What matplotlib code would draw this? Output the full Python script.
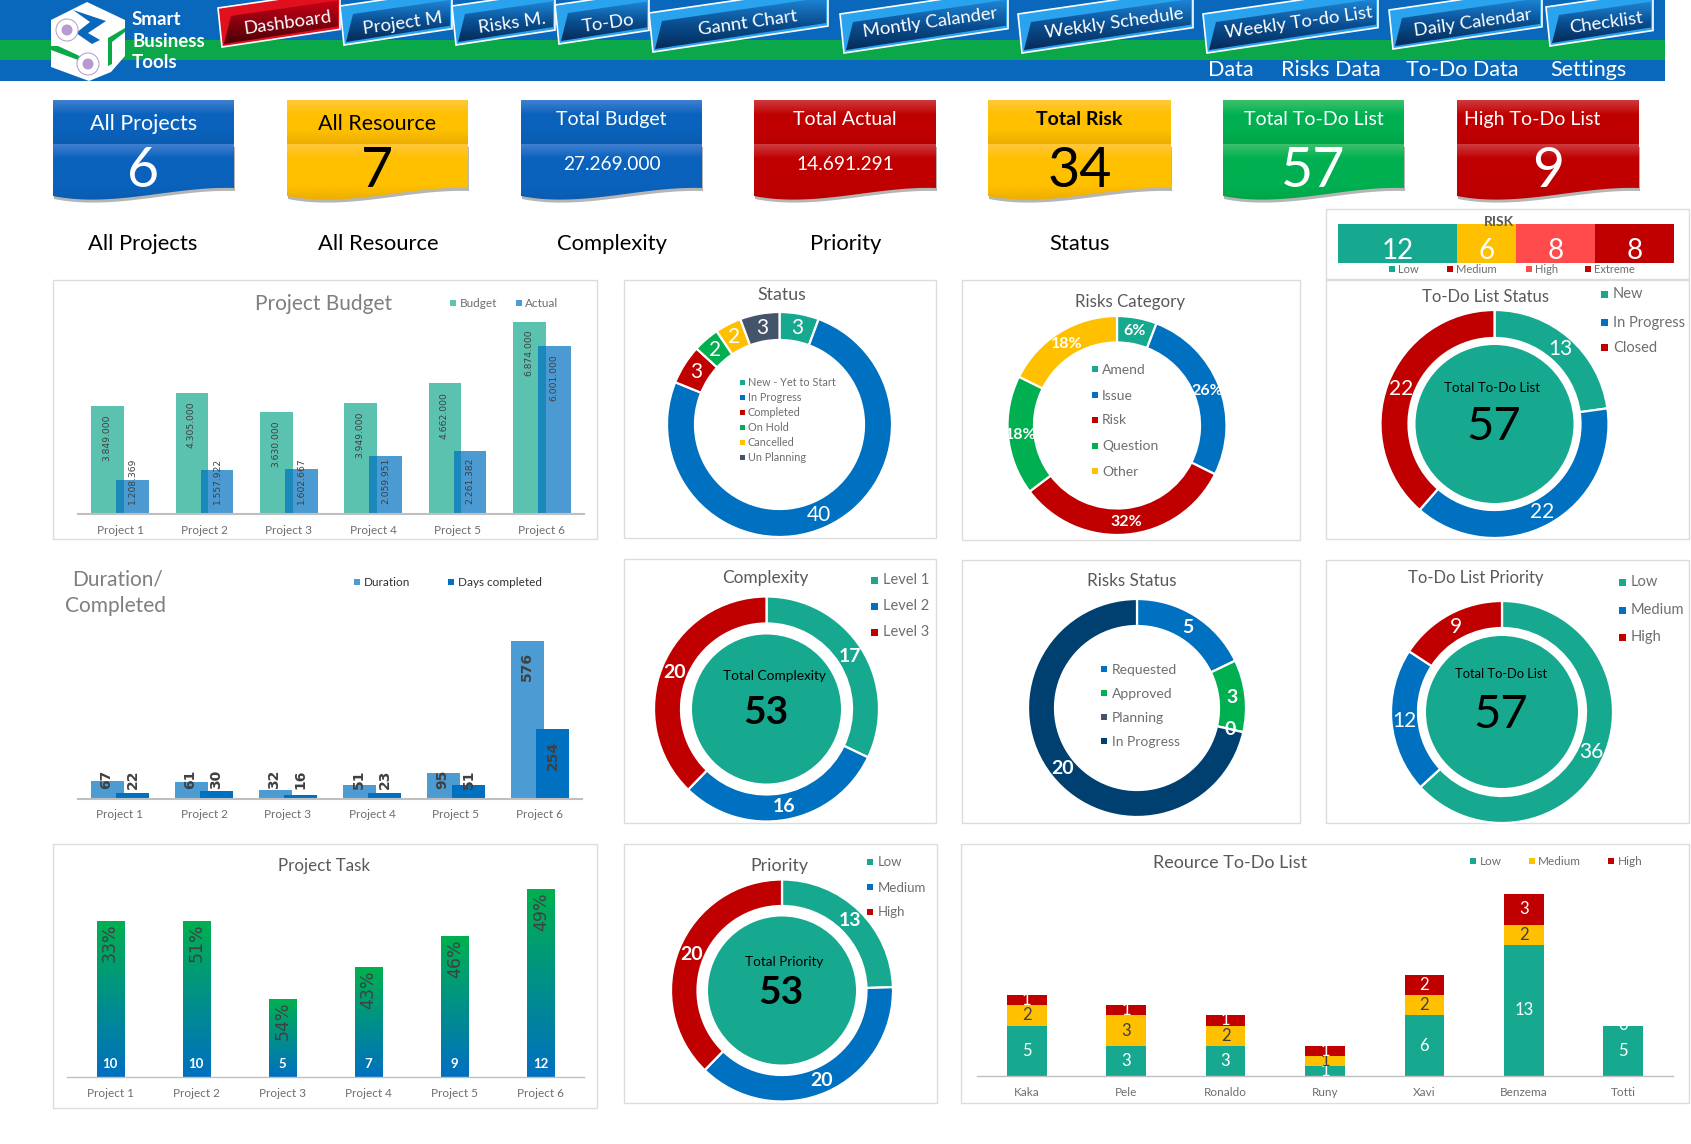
#!/usr/bin/env python3

import math
import numpy as np
import matplotlib
matplotlib.use('Agg')
import matplotlib.pyplot as plt
from matplotlib.colors import LinearSegmentedColormap
from matplotlib.patches import Circle, Polygon, Rectangle

plt.rcParams['font.family'] = ['Lato', 'DejaVu Sans']

# chart data
projects = ['Project 1', 'Project 2', 'Project 3', 'Project 4', 'Project 5', 'Project 6']
budget = [3849000, 4305000, 3630000, 3949000, 4662000, 6874000]
actual = [1208369, 1557922, 1602667, 2059951, 2261382, 6001000]
duration = [67, 61, 32, 51, 95, 576]
days_done = [22, 30, 16, 23, 51, 254]
task_count = [10, 10, 5, 7, 9, 12]
task_pct = [33, 51, 54, 43, 46, 49]

status_names = ['New - Yet to Start', 'In Progress', 'Completed', 'On Hold', 'Cancelled', 'Un Planning']
status_vals = [3, 40, 3, 2, 2, 3]
risk_cat_names = ['Amend', 'Issue', 'Risk', 'Question', 'Other']
risk_cat_vals = [2, 9, 11, 6, 6]
todo_status_names = ['New', 'In Progress', 'Closed']
todo_status_vals = [13, 22, 22]
complexity_names = ['Level 1', 'Level 2', 'Level 3']
complexity_vals = [17, 16, 20]
risk_status_names = ['Requested', 'Approved', 'Planning', 'In Progress']
risk_status_vals = [5, 3, 0, 20]
todo_prio_names = ['Low', 'Medium', 'High']
todo_prio_vals = [36, 12, 9]
priority_names = ['Low', 'Medium', 'High']
priority_vals = [13, 20, 20]

risk_names = ['Low', 'Medium', 'High', 'Extreme']
risk_vals = [12, 6, 8, 8]

people = ['Kaka', 'Pele', 'Ronaldo', 'Runy', 'Xavi', 'Benzema', 'Totti']
res_low = [5, 3, 3, 1, 6, 13, 5]
res_med = [2, 3, 2, 1, 2, 2, 0]
res_high = [1, 1, 1, 1, 2, 3, 0]

card_titles = ['All Projects', 'All Resource', 'Total Budget', 'Total Actual', 'Total Risk', 'Total To-Do List', 'High To-Do List']
card_values = ['6', '7', '27.269.000', '14.691.291', '34', '57', '9']
filters = ['All Projects', 'All Resource', 'Complexity', 'Priority', 'Status']
nav_names = ['Dashboard', 'Project M', 'Risks M.', 'To-Do', 'Gannt Chart', 'Montly Calander',
             'Wekkly Schedule', 'Weekly To-do List', 'Daily Calendar', 'Checklist']
sub_nav = ['Data', 'Risks Data', 'To-Do Data', 'Settings']

# colours
TEAL = '#17A98F'
BLUE = '#0070C0'
RED = '#C00000'
GREEN = '#00B050'
YELLOW = '#FFC000'
SLATE = '#44546A'
NAVY = '#004070'
GREY = '#6E6E6E'
W, H = 1691, 1144

fig = plt.figure(figsize=(W / 100, H / 100), dpi=100, facecolor='white')

bg = fig.add_axes([0, 0, 1, 1], zorder=0)
ov = fig.add_axes([0, 0, 1, 1], zorder=10)
for a in (bg, ov):
  a.set_xlim(0, W)
  a.set_ylim(H, 0)
  a.axis('off')
  a.patch.set_alpha(0)


def px_axes(x0, y0, x1, y1):
  # axes from reference pixel box, 1px lower fits the reference better
  a = fig.add_axes([x0 / W, 1 - (y1 + 1) / H, (x1 - x0) / W, (y1 - y0) / H], zorder=5)
  a.patch.set_alpha(0)
  return a


def grad_poly(ax, verts, cols, z=2):
  poly = Polygon(verts, closed=True, fc='none', ec='none', zorder=z)
  ax.add_patch(poly)
  xs = [v[0] for v in verts]
  ys = [v[1] for v in verts]
  cmap = LinearSegmentedColormap.from_list('g', cols)
  im = ax.imshow(np.linspace(0, 1, 64)[:, None], cmap=cmap, aspect='auto', zorder=z,
                 extent=(min(xs), max(xs), max(ys), min(ys)))
  im.set_clip_path(poly)


def panel(x0, y0, x1, y1):
  bg.add_patch(Rectangle((x0, y0 + 1), x1 - x0, y1 - y0, fc='white', ec='#DCDCDC', lw=1, zorder=1))


def txt(x, y, s, size=10, color=GREY, **kw):
  kw.setdefault('ha', 'center')
  kw.setdefault('va', 'center')
  ov.text(x, y + 1.5, s, fontsize=size, color=color, **kw)


def legend(items, size=8.5, color=GREY, box=6):
  # items: (marker x, text x, y, label, colour)
  for mx, tx, y, label, c in items:
    ov.add_patch(Rectangle((mx - box / 2, y + 1 - box / 2), box, box, fc=c, ec='none'))
    txt(tx, y, label, size, color, ha='left')


def donut(cx, cy, R, r_in, vals, colors, lab_size=15, bold=False, pct=False, disk=None):
  a = px_axes(cx - R - 2, cy - R - 2, cx + R + 2, cy + R + 2)
  a.pie(vals, colors=colors, startangle=90, counterclock=False, radius=R,
        wedgeprops=dict(width=R - r_in, edgecolor='white', linewidth=1.6))
  a.set_xlim(-R - 2, R + 2)
  a.set_ylim(-R - 2, R + 2)
  a.axis('off')
  total = float(sum(vals))
  lab_r = (R + r_in) / 2
  start = 0.0
  for v in vals:
    mid = math.radians((start + v / 2) / total * 360)
    start += v
    s = '%d%%' % round(v / total * 100) if pct else str(v)
    txt(cx + lab_r * math.sin(mid), cy - lab_r * math.cos(mid), s, lab_size, 'white',
        fontweight='bold' if bold else 'normal')
  if disk:
    a.add_patch(Circle((0, 0), disk, fc=TEAL, ec='none'))


# ---- header
bg.add_patch(Rectangle((0, 0), 1665, 81, fc='#0A68BC', ec='none', zorder=1))
bg.add_patch(Rectangle((0, 40), 1665, 20, fc='#0BA84A', ec='none', zorder=1))

# logo
logo_white = [(87, 2), (125, 20), (125, 56), (111, 72), (89, 81), (51, 67), (51, 20)]
bg.add_patch(Polygon(logo_white, fc='white', ec='none', zorder=2))
bg.add_patch(Polygon([(73, 10), (106, 21), (88, 33), (100, 40), (92, 44), (76, 33), (90, 22)], fc='#0A68BC', ec='none', zorder=3))
bg.add_patch(Polygon([(51, 46), (58, 46), (84, 58), (78, 60), (51, 50)], fc='#0BA84A', ec='none', zorder=3))
bg.add_patch(Polygon([(108, 38), (125, 28), (125, 32), (112, 42), (112, 64), (108, 66)], fc='#0BA84A', ec='none', zorder=3))
for lx, ly in [(67, 30), (88, 64)]:
  bg.add_patch(Circle((lx, ly), 11, fc='white', ec='#B9A5CC', lw=0.8, zorder=4))
  bg.add_patch(Circle((lx, ly), 5.5, fc='#B79AD0', ec='none', zorder=5))
for s, y in zip(['Smart', 'Business', 'Tools'], [18, 40, 61]):
  txt(132, y, s, 13.5, 'white', ha='left', fontweight='bold')

# nav buttons, they lean upwards to the right
nav_x = [(218, 340), (340, 452), (452, 555), (555, 649), (649, 828), (840, 1008), (1018, 1193), (1203, 1378), (1389, 1542), (1546, 1653)]
nav_yb = [47, 45, 45, 44, 52, 53, 53, 53, 49, 46]
nav_txt_x = [287, 403, 512, 608, 748, 930, 1114, 1299, 1473, 1606]
slope = 0.145
for i, name in enumerate(nav_names):
  x0, x1 = nav_x[i]
  yb = nav_yb[i]
  ww = x1 - x0
  outer = '#E0101E' if i == 0 else '#2AA3EE'
  cols = ['#C80016', '#4A0008'] if i == 0 else ['#1E86D6', '#0A4F92', '#052C58']
  bg.add_patch(Polygon([(x0, yb - 39), (x1, yb - 39 - slope * ww), (x1, yb - slope * ww), (x0 + 4, yb)],
                       fc=outer, ec='white', lw=1.2, zorder=3))
  grad_poly(bg, [(x0 + 13, yb - 31), (x1 - 2, yb - 31 - slope * (ww - 15)), (x1 - 2, yb - 3 - slope * ww), (x0 + 6, yb - 3)], cols, 4)
  txt(nav_txt_x[i], 21.5, name, 13.3, 'white', rotation=8)

for s, x in zip(sub_nav, [1231, 1331, 1462, 1588]):
  txt(x, 69, s, 15.5, 'white')

# ---- KPI cards
card_x = [(53, 234), (287, 468), (521, 702), (754, 936), (988, 1171), (1223, 1404), (1457, 1639)]
card_cols = [('#3F7FD0', '#0A62BC', '#0A5CB0'), ('#FFC83A', '#FFC000', '#EDAE00'), ('#3F7FD0', '#0A62BC', '#0A5CB0'),
             ('#CE3A3E', '#C00000', '#B80000'), ('#FFC83A', '#FFC000', '#EDAE00'), ('#3CC06C', '#00B050', '#00A548'),
             ('#CE3A3E', '#C00000', '#B80000')]
card_txt = ['white', 'black', 'white', 'white', 'black', 'white', 'white']
for i in range(7):
  x0, x1 = card_x[i]
  ww = x1 - x0
  t = np.linspace(0, 1, 40)
  # wavy bottom edge, low on the left and rising to the right
  wave = (1 - t) ** 3 * 196 + 3 * (1 - t) ** 2 * t * 208 + 3 * (1 - t) * t ** 2 * 186 + t ** 3 * 188
  wave_pts = [(x0 + a * ww, b) for a, b in zip(t, wave)]
  bottom = [(x0, 144), (x1, 144)] + wave_pts[::-1]
  shadow = [(px + 1, py + 3) for px, py in bottom]
  bg.add_patch(Polygon(shadow, fc='#B5B5B5', ec='none', zorder=2))
  c1, c2, c3 = card_cols[i]
  grad_poly(bg, [(x0, 100), (x1, 100), (x1, 144), (x0, 144)], [c1, c2, c2, c3], 3)
  grad_poly(bg, bottom, [c1, c2, c2, c2, c3], 3)
  tx = (x0 + x1) / 2
  ty = 122 if i < 2 else 118
  size = 15.5 if i < 2 else 14
  if i == 6:
    tx = 1532
  txt(tx, ty, card_titles[i], size, card_txt[i], fontweight='bold' if i == 4 else 'normal')
  if i in (2, 3):
    txt((x0 + x1) / 2, 163, card_values[i], 13.8, card_txt[i])
  else:
    txt((x0 + x1) / 2, 170, card_values[i], 40, card_txt[i])

for s, x in zip(filters, [143, 378, 612, 846, 1080]):
  txt(x, 242, s, 15.8, 'black')

# ---- panels
panel(53, 279, 597, 538)
panel(624, 279, 936, 537)
panel(962, 279, 1300, 539)
panel(1326, 208, 1689, 278)
panel(1326, 279, 1689, 538)
panel(624, 558, 936, 822)
panel(962, 559, 1300, 822)
panel(1326, 559, 1689, 822)
panel(53, 843, 597, 1107)
panel(624, 843, 937, 1102)
panel(961, 843, 1689, 1102)

# ---- project budget
x = np.arange(6)
ax = px_axes(78, 300, 584, 513)
ax.bar(x - 0.148, budget, 0.39, color=TEAL, alpha=0.7)
ax.bar(x + 0.148, actual, 0.39, color=BLUE, alpha=0.7)
ax.set_xlim(-0.5, 5.5)
ax.set_ylim(0, (513 - 300) / 28.0 * 1e6)
for i in range(6):
  ax.annotate(f'{budget[i]:,}'.replace(',', '.'), (x[i] - 0.155, budget[i]), xytext=(0, -6), textcoords='offset points',
              rotation=90, ha='center', va='top', fontsize=6.6, color='#3F3F3F', family='DejaVu Sans')
  s = f'{actual[i]:,}'.replace(',', '.')
  if actual[i] > 5e6:
    ax.annotate(s, (x[i] + 0.148, actual[i]), xytext=(0, -6), textcoords='offset points', rotation=90,
                ha='center', va='top', fontsize=6.6, color='#3F3F3F', family='DejaVu Sans')
  else:
    ax.annotate(s, (x[i] + 0.148, 0), xytext=(0, 7), textcoords='offset points', rotation=90,
                ha='center', va='bottom', fontsize=6.6, color='#3F3F3F', family='DejaVu Sans')

# ---- duration / completed
ax2 = px_axes(78, 620, 582, 798)
ax2.bar(x - 0.148, duration, 0.39, color='#4C9BD3')
ax2.bar(x + 0.148, days_done, 0.39, color=BLUE)
ax2.set_xlim(-0.5, 5.5)
ax2.set_ylim(0, 178 / 0.274)
for i in range(6):
  for off, v in ((-0.16, duration[i]), (0.148, days_done[i])):
    if v > 200:
      ax2.annotate(str(v), (x[i] + off, v), xytext=(0, -8), textcoords='offset points', rotation=90,
                   ha='center', va='top', fontsize=10, fontweight='bold', color='#404040', family='DejaVu Sans')
    else:
      ax2.annotate(str(v), (x[i] + off, 0), xytext=(0, 7), textcoords='offset points', rotation=90,
                   ha='center', va='bottom', fontsize=10, fontweight='bold', color='#404040', family='DejaVu Sans')

# ---- project task, bars fade green to blue
ax3 = px_axes(67, 870, 584, 1076)
task_bars = ax3.bar(x, task_count, 0.315, color='none')
task_cmap = LinearSegmentedColormap.from_list('task', [GREEN, BLUE])
for b in task_bars:
  ax3.imshow(np.linspace(0, 1, 64)[:, None], cmap=task_cmap, aspect='auto', origin='upper',
             extent=(b.get_x(), b.get_x() + b.get_width(), 0, b.get_height()))
ax3.set_xlim(-0.5, 5.5)
ax3.set_ylim(0, 206 / 15.6)
for i in range(6):
  ax3.annotate(f'{task_pct[i]}%', (x[i], task_count[i]), xytext=(0, -2), textcoords='offset points', rotation=90,
               ha='center', va='top', fontsize=12.5, color='#404040', family='DejaVu Sans')
  ax3.annotate(str(task_count[i]), (x[i], 0), xytext=(0, 9), textcoords='offset points',
               ha='center', va='center', fontsize=9.5, color='white', fontweight='bold')

# ---- resource to-do, stacked
ax4 = px_axes(977, 880, 1673, 1075)
xr = np.arange(7)
low = np.array(res_low)
med = np.array(res_med)
high = np.array(res_high)
ax4.bar(xr, low, 0.4, color=TEAL)
ax4.bar(xr, med, 0.4, bottom=low, color=YELLOW)
ax4.bar(xr, high, 0.4, bottom=low + med, color=RED)
ax4.set_xlim(-0.5, 6.5)
ax4.set_ylim(0, 195 / 10.1)
for i in range(7):
  ax4.text(xr[i], low[i] / 2, str(low[i]), ha='center', va='center', color='white', fontsize=12)
  ax4.text(xr[i], low[i] + med[i] / 2, str(med[i]), ha='center', va='center', color='#404040' if med[i] else 'white', fontsize=12)
  if high[i]:
    ax4.text(xr[i], low[i] + med[i] + high[i] / 2, str(high[i]), ha='center', va='center', color='white', fontsize=12)

for a, cats, ly in ((ax, projects, 528), (ax2, projects, 812), (ax3, projects, 1091), (ax4, people, 1090)):
  a.set_xticks(range(len(cats)))
  a.set_xticklabels(cats, fontsize=8.5, color=GREY)
  a.tick_params(axis='x', length=0, pad=ly - (a.get_position().y0 * -H + H) - 6)
  a.set_yticks([])
  for sp in ('top', 'left', 'right'):
    a.spines[sp].set_visible(False)
  a.spines['bottom'].set_color('#BFBFBF')
  a.spines['bottom'].set_linewidth(1.5 if a in (ax, ax2) else 1)

# ---- donuts
donut(779.5, 423.5, 112.5, 84.5, status_vals, [TEAL, BLUE, RED, GREEN, YELLOW, SLATE], 15)
donut(1117, 424.5, 109.5, 83, risk_cat_vals, [TEAL, BLUE, RED, GREEN, YELLOW], 11.5, bold=True, pct=True)
donut(1494.5, 423, 114, 86, todo_status_vals, [TEAL, BLUE, RED], 15, disk=79)
donut(766.5, 708, 112.5, 85.5, complexity_vals, [TEAL, BLUE, RED], 14, bold=True, disk=74.5)
donut(1137, 707, 109, 82, risk_status_vals, [BLUE, GREEN, SLATE, NAVY], 14, bold=True)
donut(1502, 711, 111, 84, todo_prio_vals, [TEAL, BLUE, RED], 15, disk=76)
donut(782, 989.5, 111, 84.5, priority_vals, [TEAL, BLUE, RED], 14, bold=True, disk=74)

# centre texts
txt(1492, 386, 'Total To-Do List', 9.6, 'black')
txt(1494, 426, '57', 34, 'black')
txt(774, 675, 'Total Complexity', 9.8, 'black')
txt(766, 711, '53', 28, 'black', fontweight='bold')
txt(1501, 673, 'Total To-Do List', 9.3, 'black')
txt(1501, 714, '57', 34, 'black')
txt(784, 960, 'Total Priority', 9.7, 'black')
txt(781, 991, '53', 28, 'black', fontweight='bold')

# ---- titles
txt(324, 302, 'Project Budget', 15, '#7F7F7F')
txt(118, 578, 'Duration/', 15, '#7F7F7F')
txt(116, 605, 'Completed', 15, '#7F7F7F')
txt(324, 864, 'Project Task', 12.2, '#595959')
txt(782, 293, 'Status', 12.8, '#595959')
txt(1130, 301, 'Risks Category', 12.2, '#595959')
txt(1486, 296, 'To-Do List Status', 12, '#595959')
txt(765, 576, 'Complexity', 12.4, '#595959')
txt(1132, 580, 'Risks Status', 12.3, '#595959')
txt(1476, 577, 'To-Do List Priority', 12, '#595959')
txt(779, 864, 'Priority', 12.8, '#595959')
txt(1230, 861, 'Reource To-Do List', 13, '#595959')

# ---- legends
legend([(453, 460, 302, 'Budget', '#5CC4B0'), (519, 525, 302, 'Actual', '#4C9BD3')])
legend([(357, 364, 581, 'Duration', '#4C9BD3'), (451, 458, 581, 'Days completed', BLUE)], color='#303030')
cols6 = [TEAL, BLUE, RED, GREEN, YELLOW, SLATE]
legend([(742, 748, y, n, c) for y, n, c in zip([381, 396, 411, 426, 441, 456], status_names, cols6)], size=7.8, box=5)
legend([(1095, 1102, y, n, c) for y, n, c in zip([368, 394, 419, 445, 470], risk_cat_names, [TEAL, BLUE, RED, GREEN, YELLOW])], size=10, box=6)
legend([(1604, 1613, y, n, c) for y, n, c in zip([293, 321, 346], todo_status_names, [TEAL, BLUE, RED])], size=10.5, box=7)
legend([(874, 883, y, n, c) for y, n, c in zip([579, 605, 631], complexity_names, [TEAL, BLUE, RED])], size=10.5, box=7)
legend([(1104, 1112, y, n, c) for y, n, c in zip([668, 692, 716, 740], risk_status_names, [BLUE, GREEN, SLATE, NAVY])], size=10, box=6)
legend([(1622, 1631, y, n, c) for y, n, c in zip([581, 609, 636], todo_prio_names, [TEAL, BLUE, RED])], size=10.5, box=7)
legend([(870, 878, y, n, c) for y, n, c in zip([861, 886, 911], priority_names, [TEAL, BLUE, RED])], size=9.5, box=6)
legend([(1473, 1480, 860, 'Low', TEAL), (1532, 1538, 860, 'Medium', YELLOW), (1611, 1618, 860, 'High', RED)], size=8.5)

# ---- risk strip, one stacked horizontal bar
ax5 = px_axes(1338, 223, 1674, 262)
left = 0
for v, c in zip(risk_vals, ['#17A98F', YELLOW, '#FF4B4B', RED]):
  ax5.barh(0, v, 1, left=left, color=c)
  ax5.text(left + v / 2, -0.2, str(v), ha='center', va='center', color='white', fontsize=20)
  left += v
ax5.set_xlim(0, sum(risk_vals))
ax5.set_ylim(-0.5, 0.5)
ax5.axis('off')
txt(1499, 220, 'RISK', 10, '#595959', fontweight='bold')
legend([(1392, 1398, 268, risk_names[0], TEAL), (1450, 1456, 268, risk_names[1], RED),
        (1529, 1535, 268, risk_names[2], '#FF4B4B'), (1588, 1594, 268, risk_names[3], RED)], size=8)

bg.set_xlim(0, W)
bg.set_ylim(H, 0)
fig.savefig('out.png', dpi=100)
